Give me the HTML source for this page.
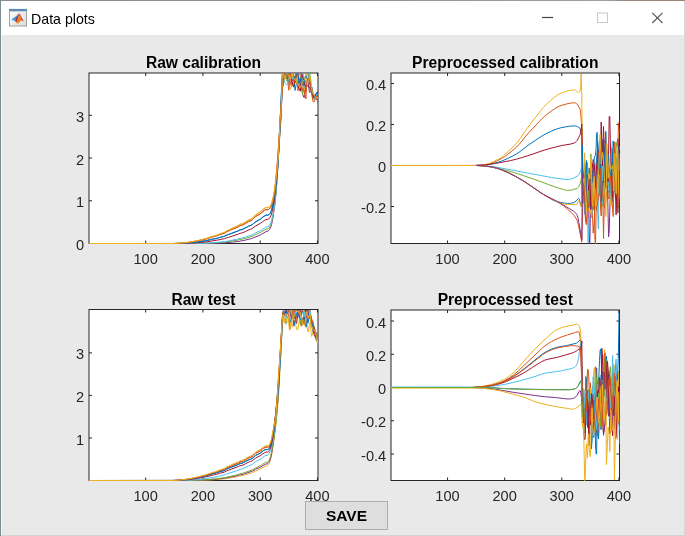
<!DOCTYPE html>
<html><head><meta charset="utf-8"><title>Data plots</title>
<style>
html,body{margin:0;padding:0;}
body{width:685px;height:536px;overflow:hidden;position:relative;background:#e9e9e9;font-family:'Liberation Sans',Arial,sans-serif;}
.tb{position:absolute;left:0;top:0;width:685px;height:35px;background:#fff;}
.bl{position:absolute;left:0;top:0;width:1px;height:536px;background:#7f8e93;}
.bl2{position:absolute;left:1px;top:35px;width:1px;height:501px;background:#f3f3f3;}
.bt{position:absolute;left:0;top:0;width:685px;height:1px;background:linear-gradient(90deg,#858d92 0,#8c9296 300px,#9aa0a4 610px,#9c8580 625px,#a07f7a 685px);}
.br{position:absolute;right:0;top:1px;width:1px;height:535px;background:#d8d6d6;}
.bb{position:absolute;left:1px;bottom:0;width:684px;height:1px;background:#d3d3d3;}
.ttl{position:absolute;left:31px;top:9.8px;font-size:14.2px;color:#000;line-height:18px;letter-spacing:0px;}
.btn{position:absolute;left:305px;top:501px;width:81px;height:27px;border:1px solid #adadad;background:#dddedd;
 font-weight:bold;font-size:15.5px;color:#000;text-align:center;line-height:27px;}
svg.main{position:absolute;left:0;top:0;}
</style></head><body>
<div class="tb"></div>

<svg width="20" height="20" viewBox="0 0 20 20" style="position:absolute;left:8px;top:8px">
<defs><linearGradient id="ib" x1="0" y1="0" x2="1" y2="1"><stop offset="0" stop-color="#ffffff"/><stop offset="1" stop-color="#dadada"/></linearGradient></defs>
<rect x="1.5" y="1.5" width="17" height="16.5" fill="url(#ib)" stroke="#a3a3a3" stroke-width="1"/>
<rect x="1" y="0.9" width="18" height="2.3" fill="#5d8bb6"/>
<rect x="2" y="3.2" width="16" height="0.8" fill="#c9ccd0"/>
<polygon points="3.4,11.4 10.4,6.6 9.2,10 7.3,13.3" fill="#3f97d6"/>
<polygon points="10.1,6.6 11.5,5 9.6,11.5 8.4,14.4 7.2,13.2" fill="#a81e22"/>
<polygon points="11.5,5 13.2,12.2 11.2,14.7 9.3,15.9 8.3,14.6 9.6,11.2" fill="#ee7d22"/>
<polygon points="11.5,5 15.8,13.6 13.2,12.2" fill="#d2452a"/>
<polygon points="8.3,14.5 11.2,14.6 9.4,16" fill="#f7b52b"/>
</svg>
<div class="ttl">Data plots</div>
<svg width="685" height="35" style="position:absolute;left:0;top:0">
<path d="M542 17.5h11" stroke="#444" stroke-width="1.2"/>
<rect x="597.5" y="13" width="10" height="9.5" fill="none" stroke="#c8c8c8" stroke-width="1"/>
<path d="M652.3 12.8L662.5 23M662.5 12.8L652.3 23" stroke="#555" stroke-width="1.1"/>
</svg>
<svg class="main" width="685" height="536" viewBox="0 0 685 536">
<rect x="89" y="73" width="229" height="170.5" fill="#fff"/>
<rect x="89" y="73" width="229" height="170.5" fill="none" stroke="#262626" stroke-width="1"/>
<path d="M145.68 243.5v-3M145.68 73v3M202.93 243.5v-3M202.93 73v3M260.18 243.5v-3M260.18 73v3M317.43 243.5v-3M317.43 73v3M89 243.50h3M318 243.50h-3M89 200.77h3M318 200.77h-3M89 158.04h3M318 158.04h-3M89 115.30h3M318 115.30h-3" stroke="#262626" stroke-width="1" fill="none"/>
<clipPath id="c0"><rect x="89" y="73.5" width="229" height="170.5"/></clipPath>
<g clip-path="url(#c0)" fill="none" stroke-width="1" stroke-linejoin="round">
<polyline stroke="#0072BD" points="89.0,243.5 176.6,243.5 186.9,243.1 192.1,242.6 200.1,241.7 205.8,240.7 210.9,239.6 212.7,239.1 214.4,238.9 217.8,238.1 219.5,237.5 224.7,236.2 226.4,235.3 238.4,230.8 240.1,229.8 241.9,229.6 245.3,228.0 248.7,226.1 250.4,225.6 252.2,224.7 255.6,221.8 260.8,218.9 262.5,217.3 264.8,215.8 265.9,215.2 267.6,215.1 268.8,214.7 269.3,214.3 269.9,213.6 270.5,212.6 271.6,209.7 272.8,205.8 274.5,197.1 275.1,193.3 275.6,187.4 277.4,167.8 278.5,151.9 282.5,72.6 283.1,73.6 284.2,73.9 286.5,74.1 287.1,75.6 287.7,78.2 288.2,80.0 289.4,82.3 289.9,83.0 292.2,80.9 293.4,76.7 295.1,90.4 296.8,80.8 297.4,80.0 298.0,81.7 298.5,82.5 300.3,77.7 301.4,81.1 302.0,82.2 303.7,78.0 304.3,77.7 304.8,78.8 305.4,77.7 307.1,70.0 309.4,80.6 310.0,82.2 311.1,88.3 312.3,93.3 312.8,96.6 313.4,97.7 315.1,97.0 315.7,97.6 317.4,100.1 318.0,98.3"/>
<polyline stroke="#D95319" points="89.0,243.5 173.2,243.5 177.7,243.3 182.9,243.0 186.9,242.6 192.1,241.9 198.9,240.6 204.1,239.3 205.8,239.0 210.9,237.5 212.7,236.8 214.4,236.5 216.1,235.9 217.8,235.5 219.5,234.7 224.7,233.1 226.4,231.9 228.1,231.2 231.6,229.5 235.0,228.2 238.4,226.7 240.1,225.5 241.9,225.3 245.3,223.5 248.7,221.3 250.4,220.8 252.2,219.8 255.6,216.5 260.8,213.5 262.5,211.8 264.8,210.1 265.9,209.6 267.0,209.7 268.2,209.6 269.3,209.0 269.9,208.4 271.1,206.3 272.2,203.1 272.8,200.8 274.5,191.5 275.6,183.3 280.8,119.9 282.5,77.2 283.1,76.9 284.2,78.8 284.8,79.4 285.4,76.6 285.9,74.8 286.5,74.2 289.4,76.4 289.9,78.9 290.5,83.5 291.1,85.5 292.8,77.7 293.4,78.0 294.0,82.0 294.5,82.2 295.1,77.2 296.2,70.0 296.8,74.0 297.4,84.1 298.0,90.7 299.7,84.6 300.3,83.9 303.1,90.9 303.7,91.1 304.8,81.4 305.4,79.7 308.3,81.9 308.8,80.5 309.4,76.9 310.0,76.6 311.1,90.5 311.7,93.3 312.3,93.7 313.4,95.4 315.7,94.7 316.3,95.7 317.4,101.5 318.0,103.6"/>
<polyline stroke="#EDB120" points="89.0,243.5 173.2,243.5 177.7,243.3 182.9,242.9 186.9,242.5 192.1,241.7 198.9,240.4 204.1,239.0 205.8,238.6 209.2,237.5 210.9,237.0 212.7,236.3 214.4,236.0 216.1,235.3 217.8,234.9 219.5,234.0 224.7,232.3 226.4,231.1 228.1,230.4 231.6,228.5 235.0,227.1 238.4,225.5 240.1,224.2 241.9,224.1 245.3,222.1 248.7,219.9 250.4,219.3 252.2,218.3 255.6,214.8 260.8,211.6 262.5,209.8 264.8,208.1 265.9,207.5 267.0,207.6 268.2,207.5 269.3,206.9 269.9,206.4 270.5,205.7 271.1,204.5 272.8,199.1 273.3,196.4 274.5,189.0 276.2,175.1 277.4,163.3 277.9,153.3 280.2,122.3 280.8,112.6 282.5,77.0 283.6,76.7 284.2,76.8 285.4,77.5 287.1,74.7 287.7,74.3 288.8,75.3 289.4,80.0 289.9,87.1 290.5,89.2 291.7,86.0 292.2,85.0 294.0,83.7 295.7,76.7 296.2,76.3 297.4,81.0 298.0,80.7 299.1,76.6 299.7,76.0 300.8,76.7 302.5,79.4 303.1,80.5 304.3,90.7 304.8,94.0 305.4,78.5 306.0,70.9 307.7,80.0 309.4,86.3 310.0,85.3 310.6,85.4 312.8,97.2 313.4,99.2 314.0,100.2 314.6,99.0 315.7,94.5 317.4,95.3 318.0,96.2"/>
<polyline stroke="#7E2F8E" points="89.0,243.5 198.9,243.5 214.4,243.3 224.7,242.8 232.7,242.1 238.4,241.4 244.1,240.4 250.4,238.9 252.2,238.3 260.2,235.0 265.9,231.7 268.2,230.9 269.3,229.8 269.9,228.9 271.1,226.2 271.6,224.4 272.2,221.9 272.8,218.5 275.1,202.2 276.2,190.3 277.4,174.3 280.8,116.5 281.9,99.4 282.5,84.9 283.6,75.1 284.2,72.7 285.4,70.3 285.9,68.3 286.5,64.6 287.1,63.3 288.8,66.5 289.4,68.2 289.9,73.1 290.5,76.7 292.2,76.9 293.4,77.3 294.0,78.1 295.1,82.4 296.8,71.2 297.4,72.3 299.1,82.6 300.8,84.5 301.4,86.9 302.5,93.6 303.7,97.2 304.3,97.5 306.0,85.7 306.5,82.3 307.1,80.1 307.7,81.1 308.3,84.1 309.4,92.2 310.0,92.7 310.6,91.5 311.1,91.3 311.7,93.0 312.8,94.2 314.0,97.2 315.7,93.8 317.4,92.0 318.0,94.3"/>
<polyline stroke="#77AC30" points="89.0,243.5 193.2,243.5 206.9,243.2 214.4,242.9 221.2,242.4 224.7,242.1 235.0,240.6 238.4,239.9 240.1,239.5 241.9,239.2 245.9,238.2 252.2,236.3 255.6,234.6 260.8,232.3 263.0,230.9 265.9,229.4 268.2,228.7 268.8,228.3 269.3,227.6 270.5,225.5 271.6,222.2 272.2,219.9 273.3,213.9 274.5,206.5 275.1,202.5 275.6,197.0 276.8,183.5 278.5,155.0 280.8,121.4 282.5,80.3 285.4,74.0 285.9,76.3 286.5,79.4 287.1,81.5 288.8,73.5 289.4,71.5 289.9,70.5 290.5,69.9 292.2,69.7 294.0,75.9 295.7,78.9 296.2,80.2 297.4,84.8 298.0,85.5 299.7,80.9 300.8,80.0 301.4,83.9 302.5,94.6 303.1,92.3 304.8,82.0 305.4,81.5 306.0,81.3 308.3,80.1 309.4,72.8 310.0,73.3 311.1,90.7 312.3,95.8 312.8,97.6 313.4,97.3 314.0,95.6 314.6,95.7 315.7,96.0 317.4,98.4 318.0,98.8"/>
<polyline stroke="#4DBEEE" points="89.0,243.5 190.9,243.4 205.8,243.1 217.8,242.3 224.7,241.6 229.8,240.7 238.4,238.9 240.1,238.4 241.9,238.2 245.3,237.1 252.2,234.8 255.6,232.9 260.8,230.5 263.0,228.9 265.3,227.6 265.9,227.3 268.2,226.7 269.3,225.7 270.5,223.6 271.6,220.1 272.2,217.7 273.9,209.4 274.5,205.4 276.2,188.6 277.4,173.6 279.1,144.9 280.2,120.4 281.9,77.6 282.5,67.2 283.1,70.0 284.8,82.7 285.4,83.9 286.5,84.5 287.7,84.1 288.2,83.6 289.4,78.0 289.9,76.5 291.7,75.5 292.2,76.8 292.8,79.3 293.4,80.6 295.1,80.6 296.8,73.8 298.0,70.7 300.3,68.5 302.0,81.2 302.5,76.3 303.1,73.6 304.8,87.1 305.4,87.6 307.1,81.0 308.8,76.6 309.4,78.5 312.8,95.6 313.4,98.0 314.0,99.4 314.6,99.2 315.1,98.8 316.9,94.7 317.4,94.2 318.0,95.0"/>
<polyline stroke="#A2142F" points="89.0,243.5 180.6,243.5 192.6,243.1 198.9,242.6 205.8,241.9 217.8,240.0 224.7,238.6 226.4,237.9 228.7,237.3 238.4,234.1 240.1,233.3 241.9,233.0 245.3,231.6 248.7,229.9 250.4,229.4 252.2,228.5 255.6,226.0 260.8,223.1 262.5,221.7 264.8,220.2 265.9,219.6 267.6,219.4 268.8,218.9 269.9,217.6 271.1,215.3 272.2,211.6 272.8,209.1 273.3,206.1 274.5,198.4 276.2,183.2 277.4,171.3 277.9,163.9 279.6,131.8 280.2,122.9 280.8,116.2 282.5,76.4 283.1,74.7 284.8,66.1 285.9,77.8 286.5,78.1 287.7,77.9 288.2,76.7 289.4,72.6 289.9,73.1 293.4,87.1 294.5,82.4 295.1,81.4 296.2,82.7 298.0,85.7 300.3,91.2 300.8,86.7 301.4,72.6 305.4,86.5 306.0,87.1 306.5,85.1 309.4,87.2 310.6,90.0 311.1,90.6 311.7,91.7 312.8,96.9 313.4,97.9 314.6,96.2 315.1,96.6 315.7,98.4 316.3,98.0 317.4,95.5 318.0,94.5"/>
<polyline stroke="#0072BD" points="89.0,243.5 176.6,243.5 186.9,243.1 192.1,242.6 200.1,241.7 205.8,240.7 210.9,239.6 212.7,239.1 214.4,238.9 217.8,238.1 219.5,237.5 224.7,236.2 226.4,235.3 238.4,230.8 240.1,229.8 241.9,229.6 245.3,228.0 248.7,226.1 250.4,225.6 252.2,224.7 255.6,221.8 260.8,218.9 262.5,217.3 264.8,215.8 265.9,215.2 267.6,215.1 268.8,214.8 269.9,213.7 271.1,211.7 271.6,210.3 272.2,208.1 274.5,195.9 275.6,187.8 276.8,177.8 277.9,164.7 279.1,147.3 280.8,105.8 282.5,75.6 283.6,79.5 284.2,79.2 285.4,76.1 287.1,74.6 288.2,73.2 288.8,72.8 290.5,72.5 292.2,75.6 292.8,76.1 293.4,75.7 294.0,76.4 295.1,79.3 297.4,71.6 298.0,72.8 299.1,83.8 299.7,83.2 300.8,78.5 301.4,77.4 302.5,84.4 303.1,85.8 304.3,80.3 304.8,78.2 305.4,76.6 306.0,76.1 307.7,79.9 309.4,82.4 310.6,86.7 311.1,87.7 311.7,86.8 312.3,88.2 313.4,95.8 314.0,97.8 314.6,97.4 317.4,91.6 318.0,91.4"/>
<polyline stroke="#D95319" points="89.0,243.5 174.9,243.5 180.6,243.2 186.9,242.6 192.1,241.9 198.9,240.6 204.1,239.3 205.8,239.0 210.9,237.5 212.7,236.8 214.4,236.5 216.1,235.9 217.8,235.5 219.5,234.7 224.7,233.1 226.4,231.9 228.1,231.2 231.6,229.5 235.0,228.2 238.4,226.7 240.1,225.5 241.9,225.3 245.3,223.5 248.7,221.3 250.4,220.8 252.2,219.8 255.6,216.5 260.8,213.5 262.5,211.8 264.8,210.1 265.9,209.6 267.6,209.7 268.8,209.3 269.3,208.9 270.5,207.7 271.1,206.9 271.6,205.6 272.2,203.7 274.5,192.9 275.1,188.1 276.8,170.9 277.9,157.2 281.9,90.6 282.5,83.7 283.1,86.6 284.2,75.9 284.8,72.6 285.4,71.6 286.5,71.4 287.1,72.8 287.7,77.8 288.2,85.2 288.8,90.3 289.9,76.2 290.5,73.3 291.7,69.7 293.4,77.7 294.0,81.6 295.1,78.9 297.4,74.4 298.5,75.7 299.1,75.4 300.3,65.1 300.8,69.7 302.0,88.8 303.7,89.9 304.3,90.6 305.4,97.9 306.0,99.0 306.5,86.8 307.1,80.9 308.8,77.9 309.4,78.2 310.0,80.8 311.7,93.8 312.8,100.8 313.4,102.0 314.0,102.0 314.6,100.8 316.3,95.8 317.4,96.9 318.0,98.6"/>
<polyline stroke="#EDB120" points="89.0,243.5 173.2,243.5 177.7,243.3 182.9,242.9 186.9,242.5 192.1,241.7 198.9,240.4 204.1,239.0 205.8,238.6 209.2,237.5 210.9,237.0 212.7,236.3 214.4,236.0 216.1,235.3 217.8,234.9 219.5,234.0 224.7,232.3 226.4,231.1 228.1,230.4 231.6,228.5 235.0,227.1 238.4,225.5 240.1,224.2 241.9,224.1 245.3,222.1 248.7,219.9 250.4,219.3 252.2,218.3 255.6,214.8 260.8,211.6 262.5,209.8 264.8,208.1 265.9,207.5 267.0,207.6 268.2,207.5 269.3,206.9 269.9,206.4 271.1,204.6 271.6,203.3 272.8,199.5 273.3,197.0 274.5,190.7 276.2,177.9 277.4,167.1 278.5,153.9 280.2,117.5 280.8,114.7 281.4,103.3 282.5,71.6 283.1,72.1 284.8,79.3 286.5,72.0 287.1,72.4 288.2,74.4 289.9,78.3 290.5,78.6 291.7,72.6 292.2,74.0 292.8,77.0 293.4,78.8 294.5,78.8 295.7,79.0 296.8,83.7 300.3,87.2 300.8,87.1 302.5,81.4 304.3,79.7 304.8,77.9 305.4,77.8 307.7,82.9 308.8,80.3 309.4,77.6 310.0,76.6 310.6,78.3 311.1,81.5 311.7,87.4 312.3,91.3 312.8,93.3 313.4,94.3 314.0,94.6 314.6,95.5 315.7,98.0 316.9,97.4 317.4,97.4 318.0,98.9"/>
</g>
<g font-family="'Liberation Sans', Arial, Helvetica, sans-serif" font-size="14.6px" fill="#262626">
<text x="145.68" y="263.8" text-anchor="middle">100</text>
<text x="202.93" y="263.8" text-anchor="middle">200</text>
<text x="260.18" y="263.8" text-anchor="middle">300</text>
<text x="317.43" y="263.8" text-anchor="middle">400</text>
<text x="84.20" y="250.10" text-anchor="end">0</text>
<text x="84.20" y="207.37" text-anchor="end">1</text>
<text x="84.20" y="164.64" text-anchor="end">2</text>
<text x="84.20" y="121.90" text-anchor="end">3</text>
</g>
<text x="203.50" y="68" text-anchor="middle" font-family="'Liberation Sans', Arial, Helvetica, sans-serif" font-weight="bold" font-size="15.6px" fill="#000">Raw calibration</text>
<rect x="391" y="73" width="228.5" height="170.5" fill="#fff"/>
<rect x="391" y="73" width="228.5" height="170.5" fill="none" stroke="#262626" stroke-width="1"/>
<path d="M447.55 243.5v-3M447.55 73v3M504.68 243.5v-3M504.68 73v3M561.80 243.5v-3M561.80 73v3M618.93 243.5v-3M618.93 73v3M391 206.50h3M619.5 206.50h-3M391 165.50h3M619.5 165.50h-3M391 124.50h3M619.5 124.50h-3M391 83.50h3M619.5 83.50h-3" stroke="#262626" stroke-width="1" fill="none"/>
<clipPath id="c1"><rect x="391" y="73.5" width="228.5" height="170.5"/></clipPath>
<g clip-path="url(#c1)" fill="none" stroke-width="1" stroke-linejoin="round">
<polyline stroke="#7E2F8E" points="582.4,180.1 582.9,174.3 583.5,172.6 584.1,174.8 585.2,186.6 585.8,190.0 586.4,192.8 586.9,188.4 587.5,192.8 588.1,199.3 588.7,209.1 589.2,235.1 589.8,245.4 590.4,213.8 590.9,199.7 591.5,192.9 593.2,164.2 594.4,178.9 594.9,182.7 595.5,181.0 596.1,176.3 596.6,169.4 597.8,148.1 598.4,179.0 598.9,180.5 599.5,179.3 600.6,161.4 601.2,161.0 601.8,168.2 602.4,166.4 602.9,155.4 604.1,140.9 605.8,142.1 606.4,159.8 607.5,188.4 608.6,236.8 609.2,231.0 610.4,189.6 610.9,173.4 611.5,165.1 613.2,182.3 613.8,178.9 614.9,161.8 615.5,156.9 616.1,160.1 616.6,164.8 617.2,159.9 617.8,138.9 618.4,152.5 618.9,184.8 619.5,202.7"/>
<polyline stroke="#0072BD" points="391.0,165.5 475.0,165.5 485.3,165.0 488.1,164.6 491.0,164.1 497.8,162.4 501.8,161.0 507.5,158.6 513.8,155.4 516.7,153.8 519.0,152.3 529.2,144.5 540.1,137.2 545.2,134.1 551.5,131.1 556.7,129.0 560.7,127.8 568.7,126.3 571.5,126.0 574.4,125.9 576.1,126.1 577.2,126.5 578.9,127.5 580.1,128.5 580.7,130.3 581.2,133.2 581.8,134.7 582.4,196.1 582.9,203.5 583.5,195.3 584.7,163.1 585.2,166.4 586.9,196.8 587.5,201.4 588.1,204.3 588.7,181.9 589.2,167.9 589.8,198.1 590.4,207.5 590.9,180.3 591.5,172.6 592.7,174.6 593.8,166.0 594.4,206.4 594.9,205.0 596.6,159.7 597.2,151.4 597.8,153.4 598.4,152.9 598.9,144.8 599.5,139.9 600.6,174.3 601.2,173.0 601.8,165.0 602.9,139.3 603.5,177.0 604.1,199.2 605.2,188.9 605.8,177.9 606.4,178.4 607.5,197.2 608.6,167.6 609.2,181.6 609.8,186.7 610.4,175.5 610.9,176.7 611.5,198.7 612.1,202.3 612.6,198.7 613.8,193.7 614.4,189.8 614.9,177.0 615.5,170.2 616.1,172.3 616.6,180.5 617.8,213.1 618.9,161.6 619.5,170.3"/>
<polyline stroke="#D95319" points="391.0,165.5 475.0,165.5 479.5,165.2 485.3,164.7 488.1,164.1 491.0,163.3 497.8,160.5 501.8,158.4 504.7,156.6 507.5,154.5 513.8,149.4 516.7,146.9 519.0,144.5 529.2,132.2 540.1,120.6 543.0,117.8 545.2,115.7 552.1,110.5 554.9,108.6 557.2,107.2 559.5,106.1 561.2,105.5 566.4,104.0 569.8,103.2 573.8,102.8 574.9,102.8 575.5,103.0 576.7,103.7 577.8,105.0 579.5,108.0 580.1,109.3 580.7,113.2 581.8,128.5 582.4,186.8 582.9,187.9 583.5,187.1 584.1,183.7 584.7,197.2 585.2,216.3 585.8,222.8 586.4,224.7 587.5,213.4 588.7,208.2 589.8,180.7 590.4,176.0 590.9,173.5 592.1,206.9 593.2,233.2 594.4,219.1 595.5,181.1 596.1,208.3 596.6,208.2 597.8,159.9 598.9,196.2 599.5,192.5 600.1,177.3 600.6,209.2 601.2,215.9 602.4,169.8 603.5,238.7 604.6,187.1 605.8,178.3 606.4,184.7 606.9,188.7 608.1,190.4 609.2,193.4 609.8,192.7 610.4,191.7 611.5,148.0 612.1,151.0 612.6,191.3 613.2,187.5 613.8,158.5 614.4,150.5 614.9,152.6 616.1,197.6 616.6,200.1 617.2,193.6 618.4,122.7 619.5,133.9"/>
<polyline stroke="#EDB120" points="391.0,165.5 475.5,165.4 481.3,165.0 486.4,164.3 489.8,163.3 493.8,161.5 499.0,158.9 501.3,157.4 503.5,155.7 508.7,151.2 515.5,144.3 517.8,141.7 520.1,138.6 529.8,124.6 540.7,110.6 543.5,107.3 545.8,104.9 550.4,100.7 553.8,97.8 557.2,95.2 558.9,94.2 560.7,93.3 565.8,91.5 569.8,90.4 572.7,89.9 574.4,89.9 574.9,90.0 575.5,90.3 577.8,92.2 578.4,92.5 578.9,92.5 579.5,91.9 580.1,90.5 580.7,86.2 581.2,73.9 581.8,95.4 582.4,160.9 582.9,179.3 583.5,191.3 584.7,152.8 585.8,210.6 586.4,206.5 586.9,191.5 587.5,190.8 588.1,194.2 589.2,211.9 589.8,213.3 590.4,210.2 591.5,216.6 592.7,186.5 593.8,200.6 594.4,198.4 594.9,177.3 596.1,175.1 596.6,176.6 597.2,181.0 597.8,187.0 598.4,195.2 599.5,179.7 600.6,159.2 601.2,153.6 602.4,170.7 602.9,182.0 604.1,180.2 604.6,175.7 605.2,145.7 605.8,134.3 606.4,164.1 606.9,180.5 607.5,177.9 608.6,155.4 610.9,206.5 612.1,193.4 614.4,173.6 614.9,173.8 615.5,176.1 616.6,190.0 617.2,188.4 617.8,172.7 618.9,153.7 619.5,169.7"/>
<polyline stroke="#77AC30" points="391.0,165.5 476.7,165.5 482.4,165.9 491.0,167.0 495.5,167.8 500.7,168.9 507.5,170.7 513.8,172.5 533.2,178.9 548.7,184.6 553.8,186.5 563.5,189.6 565.8,190.1 567.5,190.3 570.4,190.2 573.8,189.5 577.2,188.3 578.4,187.2 579.5,185.2 580.1,183.7 581.2,179.5 581.8,171.0 582.4,175.5 582.9,183.1 583.5,182.0 584.1,180.1 585.2,203.0 585.8,195.8 586.4,170.0 587.5,162.5 588.7,198.7 589.8,187.2 590.4,174.0 590.9,153.9 592.1,207.8 592.7,211.1 593.2,206.3 594.4,181.7 595.5,193.8 596.6,210.9 597.2,201.9 597.8,183.9 598.4,182.1 598.9,180.8 599.5,178.5 600.1,163.1 600.6,153.2 601.2,146.4 601.8,157.8 602.4,204.3 602.9,206.7 603.5,202.6 604.1,187.0 604.6,146.9 605.2,153.0 605.8,173.4 606.4,177.5 607.5,182.8 608.1,186.4 608.6,186.9 609.2,167.3 609.8,168.5 610.4,192.7 612.1,158.1 613.2,181.2 613.8,179.6 614.4,178.5 615.5,197.1 616.1,149.6 616.6,142.9 617.2,141.2 618.9,193.3 619.5,158.4"/>
<polyline stroke="#4DBEEE" points="391.0,165.5 476.7,165.5 481.3,165.6 486.4,166.0 492.1,166.5 496.7,167.2 551.5,177.5 562.9,179.1 568.1,179.4 569.2,179.4 570.9,179.0 573.8,178.0 577.2,176.1 578.4,175.2 578.9,174.6 580.1,172.5 581.2,169.1 581.8,160.7 582.4,177.8 582.9,182.5 583.5,188.8 584.7,206.2 585.8,185.1 586.9,189.8 588.1,242.7 589.2,218.3 589.8,218.4 590.4,218.9 590.9,218.5 591.5,217.9 592.1,210.6 592.7,198.9 593.8,168.8 594.4,175.0 594.9,174.6 596.1,162.0 596.6,171.2 597.2,188.2 597.8,217.8 598.4,228.9 599.5,152.5 600.1,155.1 600.6,156.1 601.8,141.8 602.4,178.3 602.9,203.6 604.1,186.6 605.2,163.4 606.4,166.3 607.5,172.4 608.6,177.4 609.2,195.3 609.8,199.2 610.9,172.6 611.5,155.5 612.1,144.1 612.6,140.8 613.2,146.8 614.4,168.8 614.9,175.9 615.5,177.7 616.6,170.5 617.2,174.6 617.8,170.0 618.4,156.5 618.9,146.4 619.5,149.1"/>
<polyline stroke="#A2142F" points="391.0,165.5 470.4,165.5 476.1,165.4 485.3,164.8 489.3,164.4 501.8,162.3 510.4,160.6 516.7,159.1 521.2,157.8 532.1,154.3 543.0,150.5 548.7,148.8 561.8,145.5 570.9,144.0 574.4,142.9 575.5,142.2 576.1,141.7 577.2,140.3 578.9,137.3 580.1,134.6 580.7,132.1 581.8,124.0 582.9,188.2 583.5,195.2 584.1,191.5 584.7,194.5 585.2,201.7 586.4,201.8 587.5,175.3 588.7,190.6 589.2,182.5 589.8,170.1 590.9,209.0 591.5,185.1 592.1,168.2 593.2,159.5 593.8,161.7 594.4,165.0 594.9,174.6 595.5,187.5 596.6,165.9 597.2,162.3 597.8,163.0 598.4,154.6 598.9,150.7 599.5,169.6 600.1,175.0 601.2,122.0 602.4,165.9 603.5,126.5 604.1,142.7 604.6,173.9 605.2,186.9 605.8,170.5 606.9,149.7 607.5,154.2 608.1,181.7 609.2,116.5 609.8,116.4 610.4,145.0 610.9,160.4 611.5,169.8 612.6,198.3 613.8,179.3 614.4,175.9 614.9,173.4 616.1,214.9 617.8,158.6 619.5,136.0"/>
<polyline stroke="#0072BD" points="391.0,165.5 477.3,165.5 481.8,165.8 487.5,166.3 492.7,167.2 497.3,168.3 501.8,169.9 508.7,172.9 515.0,176.1 520.7,179.3 524.7,181.7 542.4,193.8 551.0,199.0 553.2,200.2 555.5,201.2 559.5,202.2 564.1,203.1 567.5,203.4 570.4,203.3 572.1,203.0 574.4,202.4 574.9,202.1 577.8,199.0 578.4,198.5 578.9,198.3 579.5,199.6 580.7,205.4 581.2,206.4 581.8,194.8 582.4,145.6 582.9,170.1 583.5,180.6 584.1,181.7 584.7,193.2 585.2,214.3 586.4,160.6 586.9,170.2 587.5,205.1 588.1,207.1 588.7,207.4 589.2,199.0 589.8,183.3 590.9,169.7 591.5,174.3 592.1,182.7 592.7,180.6 594.4,156.5 594.9,156.5 595.5,155.1 596.1,148.7 596.6,134.1 597.2,132.3 597.8,160.1 598.4,173.3 598.9,162.0 599.5,158.1 600.1,156.0 600.6,165.2 601.2,201.7 602.4,186.8 602.9,181.2 603.5,182.8 604.1,172.9 604.6,157.0 605.8,131.4 606.9,181.0 607.5,177.3 608.1,154.8 608.6,155.7 609.2,169.3 610.4,173.7 611.5,177.4 612.1,174.4 612.6,152.1 613.8,141.3 614.9,170.4 615.5,176.5 616.6,162.9 618.4,147.5 618.9,164.0 619.5,191.9"/>
<polyline stroke="#D95319" points="391.0,165.5 478.4,165.5 484.7,166.0 491.0,166.8 497.3,168.3 501.8,169.9 509.8,173.4 514.4,175.8 519.0,178.3 525.2,182.1 539.5,191.9 543.0,194.2 546.4,196.1 553.8,199.7 557.2,201.6 560.7,203.8 564.1,206.3 570.9,212.2 572.7,213.8 574.4,215.9 576.1,218.5 577.2,220.8 578.4,225.1 581.8,242.1 582.9,202.7 583.5,172.2 585.8,221.2 586.4,222.1 587.5,205.3 588.1,203.4 589.2,206.8 590.4,168.4 590.9,162.8 591.5,181.6 592.1,195.2 592.7,204.3 593.2,209.8 593.8,185.1 594.4,202.2 594.9,239.0 595.5,245.4 596.6,180.8 597.2,206.1 598.4,197.3 598.9,194.5 599.5,192.3 600.6,168.6 601.2,171.4 602.4,193.1 603.5,202.3 604.1,205.8 605.2,208.2 605.8,202.4 606.4,194.4 606.9,192.2 607.5,196.5 608.6,198.7 609.2,193.6 610.4,175.7 610.9,182.0 612.6,209.8 613.2,216.6 613.8,191.1 614.4,151.9 614.9,142.1 616.6,195.1 617.8,148.8 618.9,210.1 619.5,215.5"/>
<polyline stroke="#EDB120" points="391.0,165.5 477.3,165.5 481.8,165.8 487.5,166.3 492.7,167.2 497.3,168.3 501.8,169.9 508.7,172.9 515.0,176.1 520.7,179.3 524.7,181.7 542.4,193.8 549.8,198.2 554.9,200.8 561.2,203.1 564.7,204.1 567.5,204.4 572.1,204.4 576.7,204.3 577.2,203.9 578.4,201.1 578.9,200.3 579.5,201.4 580.7,205.7 581.2,206.4 582.4,185.0 584.1,178.3 584.7,180.5 585.2,187.9 585.8,200.9 586.4,210.6 587.5,186.6 588.1,179.1 588.7,173.8 589.2,174.1 589.8,179.1 590.9,158.2 591.5,170.7 592.1,201.5 592.7,206.3 593.8,183.8 594.4,176.6 594.9,194.3 595.5,206.5 596.6,205.3 597.8,182.2 598.9,169.5 599.5,142.2 600.1,134.3 601.2,163.9 601.8,159.2 602.4,152.5 602.9,154.2 603.5,160.5 604.6,181.9 605.2,196.7 605.8,216.6 606.9,143.4 607.5,153.2 608.1,178.2 608.6,177.1 609.2,162.2 610.4,167.4 610.9,168.9 611.5,168.8 612.6,165.3 613.2,173.4 613.8,191.1 614.4,162.9 614.9,153.3 616.1,193.6 617.2,146.0 617.8,152.5 618.4,176.5 618.9,191.4 619.5,198.5"/>
<polyline stroke="#7E2F8E" points="476.1,165.5 480.1,165.6 485.8,166.1 489.8,166.6 493.3,167.3 496.7,168.1 499.5,169.0 503.5,170.6 508.1,172.6 515.5,176.4 523.5,181.0 532.1,186.7 540.1,192.3 543.5,194.5 547.0,196.4 555.5,200.7 562.4,204.4 573.2,210.9 574.9,212.3 576.7,214.4 577.2,215.4 577.8,217.2 578.9,222.6 581.8,239.6 582.4,180.1 582.9,174.3"/>
</g>
<g font-family="'Liberation Sans', Arial, Helvetica, sans-serif" font-size="14.6px" fill="#262626">
<text x="447.55" y="263.8" text-anchor="middle">100</text>
<text x="504.68" y="263.8" text-anchor="middle">200</text>
<text x="561.80" y="263.8" text-anchor="middle">300</text>
<text x="618.93" y="263.8" text-anchor="middle">400</text>
<text x="386.20" y="213.10" text-anchor="end">-0.2</text>
<text x="386.20" y="172.10" text-anchor="end">0</text>
<text x="386.20" y="131.10" text-anchor="end">0.2</text>
<text x="386.20" y="90.10" text-anchor="end">0.4</text>
</g>
<text x="505.25" y="68" text-anchor="middle" font-family="'Liberation Sans', Arial, Helvetica, sans-serif" font-weight="bold" font-size="15.6px" fill="#000">Preprocessed calibration</text>
<rect x="89" y="309.5" width="229" height="171.0" fill="#fff"/>
<rect x="89" y="309.5" width="229" height="171.0" fill="none" stroke="#262626" stroke-width="1"/>
<path d="M145.68 480.5v-3M145.68 309.5v3M202.93 480.5v-3M202.93 309.5v3M260.18 480.5v-3M260.18 309.5v3M317.43 480.5v-3M317.43 309.5v3M89 437.96h3M318 437.96h-3M89 395.43h3M318 395.43h-3M89 352.89h3M318 352.89h-3" stroke="#262626" stroke-width="1" fill="none"/>
<clipPath id="c2"><rect x="89" y="310.0" width="229" height="171.0"/></clipPath>
<g clip-path="url(#c2)" fill="none" stroke-width="1" stroke-linejoin="round">
<polyline stroke="#0072BD" points="89.0,480.5 173.2,480.5 177.2,480.3 182.3,479.9 186.9,479.5 192.1,478.7 198.9,477.5 204.1,476.2 205.8,475.9 209.2,474.8 210.9,474.4 212.7,473.8 214.4,473.5 216.1,472.9 217.8,472.6 219.5,471.8 224.7,470.4 226.4,469.2 228.1,468.6 231.6,467.1 238.4,464.5 240.1,463.4 241.9,463.3 245.3,461.6 248.7,459.8 250.4,459.3 252.2,458.4 255.6,455.5 260.8,452.8 262.5,451.3 263.6,450.5 265.9,449.4 267.6,449.6 268.2,449.4 268.8,448.9 269.3,448.2 269.9,447.1 271.1,444.1 271.6,441.9 272.8,436.1 273.3,432.5 274.5,424.4 275.6,415.1 276.8,402.6 278.5,381.1 280.2,365.5 282.5,319.3 283.1,314.2 283.6,314.1 284.8,310.7 285.4,311.0 286.5,315.9 287.1,316.7 288.8,316.4 289.4,316.5 290.5,322.2 291.1,321.3 291.7,310.2 292.2,309.7 293.4,315.0 294.0,316.7 295.7,315.4 296.2,315.2 297.4,317.1 298.0,317.3 299.1,316.0 300.8,315.5 301.4,314.4 302.5,310.1 303.1,311.3 304.3,323.6 304.8,321.2 305.4,312.3 306.0,309.1 307.7,323.3 308.3,322.5 308.8,316.9 309.4,314.6 311.1,321.3 311.7,323.9 312.8,330.9 313.4,332.5 314.0,332.0 314.6,331.2 315.1,331.0 316.3,333.4 317.4,337.2 318.0,338.0"/>
<polyline stroke="#D95319" points="89.0,480.5 172.6,480.5 177.2,480.3 182.3,479.8 186.9,479.3 192.1,478.4 198.9,477.0 204.1,475.6 205.8,475.3 209.2,474.1 210.9,473.7 212.7,472.9 214.4,472.7 216.1,472.0 217.8,471.6 219.5,470.8 224.7,469.2 226.4,468.0 228.1,467.4 231.6,465.7 235.0,464.4 238.4,462.9 240.1,461.8 241.9,461.7 245.3,459.9 248.7,457.9 250.4,457.4 252.2,456.5 255.6,453.4 260.8,450.6 262.5,449.0 263.6,448.2 265.9,447.0 267.6,447.2 268.2,447.0 268.8,446.6 269.3,446.0 269.9,445.1 271.1,442.0 271.6,439.7 273.3,430.5 275.1,419.7 275.6,414.3 276.8,400.9 277.9,390.7 278.5,384.1 281.4,339.5 282.5,318.7 283.1,312.7 283.6,311.6 285.4,303.9 285.9,304.8 287.1,307.8 288.8,316.8 289.9,327.8 290.5,329.1 292.2,312.6 292.8,308.4 294.0,309.3 295.7,313.0 297.4,317.7 298.0,313.4 298.5,306.7 299.1,309.4 300.3,324.0 300.8,325.1 302.0,321.6 302.5,320.3 304.3,324.6 305.4,315.5 306.0,313.9 307.1,317.8 307.7,315.8 309.4,302.5 311.1,320.0 311.7,322.5 313.4,327.0 314.0,329.0 315.1,331.0 315.7,331.5 316.3,332.1 317.4,336.0 318.0,336.2"/>
<polyline stroke="#EDB120" points="89.0,480.5 190.9,480.5 205.8,480.1 217.8,479.4 224.7,478.8 229.8,478.0 238.4,476.4 240.1,475.9 241.9,475.7 245.3,474.8 252.2,472.7 255.6,471.0 260.8,468.8 263.0,467.4 265.3,466.2 267.6,465.5 268.2,465.1 268.8,464.3 269.3,463.3 270.5,459.7 271.6,454.8 272.8,448.2 273.9,440.5 276.2,423.0 277.9,402.9 279.1,387.2 281.9,333.4 282.5,324.1 283.1,318.8 284.2,318.2 284.8,319.5 285.9,323.5 287.1,319.6 288.2,316.2 289.4,330.2 289.9,329.0 291.1,321.5 291.7,319.3 292.2,324.8 292.8,326.9 294.0,325.4 295.7,324.9 296.8,329.4 297.4,330.1 298.0,329.4 299.7,317.3 302.0,325.0 302.5,325.3 303.7,317.8 304.3,320.5 304.8,321.8 306.0,320.4 306.5,320.3 307.7,330.9 308.3,332.0 309.4,324.8 310.0,322.5 310.6,325.6 311.1,332.5 311.7,336.4 312.8,332.1 313.4,331.2 314.0,332.7 315.1,336.4 316.3,340.9 317.4,342.5 318.0,340.7"/>
<polyline stroke="#7E2F8E" points="89.0,480.5 188.0,480.4 198.9,480.2 205.8,479.9 217.8,479.0 224.7,478.2 229.8,477.2 236.7,475.8 240.1,474.8 241.9,474.6 244.7,473.7 252.2,471.2 255.6,469.3 260.8,467.0 263.0,465.5 265.3,464.3 265.9,464.1 267.6,463.7 268.2,463.3 268.8,462.6 269.3,461.6 270.5,458.5 271.1,456.3 272.2,450.1 274.5,433.8 275.1,428.9 277.9,399.7 280.2,356.3 282.5,318.2 283.1,313.2 286.5,309.4 287.7,307.8 288.2,307.9 289.4,309.1 289.9,310.3 291.1,317.7 291.7,316.5 293.4,310.7 294.0,311.0 295.1,318.8 295.7,313.4 296.2,306.1 296.8,307.8 298.5,315.5 299.1,316.1 300.3,312.1 300.8,311.7 302.0,318.4 302.5,319.2 303.7,317.6 304.3,318.3 304.8,320.8 307.1,314.1 307.7,315.7 308.3,318.5 308.8,317.3 309.4,314.9 310.0,314.4 310.6,314.8 311.7,322.4 314.0,334.5 314.6,335.9 315.1,336.6 316.3,339.3 316.9,340.3 317.4,340.4 318.0,338.6"/>
<polyline stroke="#77AC30" points="89.0,480.5 186.9,480.4 200.6,480.0 205.8,479.7 214.4,479.0 224.7,477.6 235.6,475.2 238.4,474.4 240.1,473.8 241.9,473.6 252.2,469.9 255.6,467.9 260.8,465.5 262.5,464.3 264.8,462.9 265.9,462.4 267.6,462.0 268.2,461.6 268.8,460.9 269.3,459.8 270.5,456.5 271.1,454.2 273.3,442.3 274.5,434.0 276.8,413.4 277.9,400.0 279.1,382.6 280.2,358.7 282.5,322.0 283.1,317.4 284.2,319.6 285.9,319.4 286.5,317.0 287.1,308.2 287.7,303.3 288.8,302.3 290.5,310.0 291.1,310.7 292.2,310.1 292.8,310.7 294.5,319.0 295.1,317.5 296.2,309.7 298.0,301.7 298.5,302.6 299.1,313.1 299.7,319.5 301.4,326.5 303.1,318.9 303.7,315.6 304.3,310.2 304.8,310.2 306.5,311.3 307.1,311.1 307.7,310.3 308.3,310.2 309.4,310.6 310.6,317.0 311.7,322.0 312.8,320.9 314.6,328.9 315.7,333.5 316.3,335.4 316.9,336.8 318.0,342.2"/>
<polyline stroke="#4DBEEE" points="89.0,480.5 179.5,480.4 192.1,480.0 198.9,479.4 205.8,478.6 217.8,476.5 219.5,476.0 224.7,474.8 226.4,474.1 238.4,470.2 240.1,469.3 241.9,469.0 245.3,467.5 248.7,465.8 250.4,465.2 252.2,464.4 255.6,461.7 260.8,458.9 262.5,457.5 264.8,456.0 265.9,455.4 267.6,455.2 268.2,455.0 268.8,454.4 269.3,453.4 270.5,450.5 271.1,448.5 272.8,440.7 274.5,431.5 275.1,427.7 276.2,412.6 276.8,403.3 278.5,386.0 279.6,370.1 280.8,352.3 282.5,318.0 283.1,311.1 283.6,310.0 284.2,309.8 285.4,321.9 285.9,324.3 287.1,311.0 287.7,309.4 292.2,310.4 292.8,312.8 294.0,325.4 294.5,324.0 297.4,307.9 298.0,309.9 298.5,313.2 299.1,314.1 300.8,307.6 301.4,307.0 302.5,311.2 303.7,316.3 304.3,314.8 306.0,307.3 306.5,307.2 307.7,308.7 308.3,308.2 308.8,305.8 309.4,306.2 310.6,313.1 312.3,327.6 312.8,327.9 313.4,326.9 314.0,327.5 314.6,329.4 315.7,334.9 316.3,337.0 316.9,338.5 317.4,338.3 318.0,336.5"/>
<polyline stroke="#A2142F" points="89.0,480.5 174.9,480.5 180.6,480.2 186.9,479.8 192.1,479.2 198.9,478.2 204.1,477.1 205.8,476.9 210.9,475.6 212.7,475.1 214.4,474.8 216.1,474.3 217.8,474.0 219.5,473.3 224.7,472.0 226.4,471.0 228.1,470.5 231.6,469.0 238.4,466.6 240.1,465.6 241.9,465.5 245.3,463.9 248.7,462.1 250.4,461.6 252.2,460.8 255.6,458.1 260.8,455.4 262.5,454.0 264.8,452.6 265.9,452.1 267.6,452.2 268.2,452.0 268.8,451.5 269.3,450.7 269.9,449.6 271.1,446.1 272.2,441.4 273.3,434.8 276.2,411.7 277.4,398.7 278.5,383.2 279.6,364.8 281.4,333.1 282.5,316.5 283.1,313.8 283.6,314.7 284.2,314.7 284.8,314.0 286.5,310.7 287.1,309.0 288.2,304.3 288.8,305.8 290.5,314.7 293.4,318.3 294.0,318.2 295.1,317.5 295.7,319.7 296.2,323.6 296.8,322.2 298.5,307.1 299.1,304.8 300.3,310.5 300.8,312.8 302.0,311.6 303.1,302.4 303.7,301.3 305.4,311.7 306.0,311.9 307.1,309.9 307.7,310.1 308.8,316.6 309.4,318.7 310.0,318.7 310.6,318.9 311.1,321.4 311.7,325.2 312.3,327.4 312.8,326.6 313.4,326.3 314.0,327.2 314.6,331.2 315.1,334.4 315.7,336.8 316.3,337.5 316.9,337.5 317.4,338.2 318.0,337.8"/>
<polyline stroke="#0072BD" points="89.0,480.5 173.2,480.5 177.2,480.3 182.3,479.9 186.9,479.5 192.1,478.7 198.9,477.5 204.1,476.2 205.8,475.9 209.2,474.8 210.9,474.4 212.7,473.8 214.4,473.5 216.1,472.9 217.8,472.6 219.5,471.8 224.7,470.4 226.4,469.2 228.1,468.6 231.6,467.1 238.4,464.5 240.1,463.4 241.9,463.3 245.3,461.6 248.7,459.8 250.4,459.3 252.2,458.4 255.6,455.5 260.8,452.8 262.5,451.3 263.6,450.5 265.9,449.4 267.6,449.6 268.2,449.4 268.8,449.0 269.3,448.3 269.9,447.2 271.1,443.9 273.9,430.6 274.5,426.0 277.4,397.2 278.5,388.6 279.1,380.7 280.2,356.2 282.5,315.7 283.1,312.0 283.6,313.9 284.2,313.6 285.9,311.3 287.1,313.4 288.8,310.2 291.1,314.7 291.7,313.8 292.2,313.9 294.0,325.8 296.2,315.2 297.4,313.0 298.0,313.0 299.1,316.0 300.8,319.7 303.1,320.1 303.7,318.3 304.3,316.9 306.0,327.2 306.5,326.4 307.7,313.0 308.3,314.0 309.4,319.0 310.0,317.5 310.6,316.6 311.1,316.6 312.3,324.4 312.8,327.0 313.4,328.8 314.0,328.7 314.6,329.0 315.7,333.6 316.3,335.1 316.9,335.8 317.4,337.1 318.0,337.8"/>
<polyline stroke="#D95319" points="89.0,480.5 172.6,480.5 177.2,480.3 182.3,479.8 186.9,479.3 192.1,478.4 198.9,477.0 204.1,475.6 205.8,475.3 209.2,474.1 210.9,473.7 212.7,472.9 214.4,472.7 216.1,472.0 217.8,471.6 219.5,470.8 224.7,469.2 226.4,468.0 228.1,467.4 231.6,465.7 235.0,464.4 238.4,462.9 240.1,461.8 241.9,461.7 245.3,459.9 248.7,457.9 250.4,457.4 252.2,456.5 255.6,453.4 260.8,450.6 262.5,449.0 263.6,448.2 265.9,447.0 267.6,447.2 268.2,447.0 268.8,446.6 269.3,445.9 269.9,444.9 271.1,442.0 271.6,440.0 272.8,434.0 273.9,427.1 275.6,413.7 276.8,402.8 278.5,375.6 280.2,352.4 282.5,315.1 283.1,310.9 284.8,315.2 285.4,316.0 287.1,314.2 288.2,312.0 288.8,310.7 289.9,306.1 290.5,306.7 292.2,310.3 293.4,319.3 294.0,320.7 294.5,321.5 295.1,321.6 296.8,317.0 298.5,313.8 299.1,312.2 300.3,304.1 300.8,309.5 302.0,324.2 302.5,323.6 303.7,321.0 305.4,318.7 306.0,317.5 307.1,314.3 307.7,314.5 308.3,317.5 308.8,318.5 309.4,316.7 310.0,316.3 310.6,316.6 311.1,317.2 312.8,322.5 315.1,333.3 315.7,334.7 316.9,336.1 317.4,337.5 318.0,337.4"/>
<polyline stroke="#EDB120" points="89.0,480.5 172.0,480.5 178.9,480.1 186.9,479.1 192.1,478.2 197.2,477.0 198.9,476.7 204.1,475.1 205.8,474.8 209.2,473.5 210.9,473.0 212.7,472.3 214.4,472.0 216.1,471.3 217.8,470.9 219.5,470.0 224.7,468.4 226.4,467.1 228.1,466.4 231.6,464.6 235.0,463.3 238.4,461.8 240.1,460.6 241.9,460.5 245.3,458.7 248.7,456.6 250.4,456.2 252.2,455.2 255.6,452.0 260.8,449.2 262.5,447.5 263.6,446.7 265.9,445.5 267.6,445.7 268.2,445.5 268.8,445.2 269.3,444.5 269.9,443.5 270.5,442.1 271.6,438.1 273.9,426.3 275.6,418.7 276.2,412.1 277.9,387.4 282.5,316.3 283.1,314.4 284.2,323.0 285.4,315.7 287.1,322.3 287.7,322.0 288.8,319.9 289.4,318.5 290.5,302.9 292.2,316.8 292.8,320.2 294.5,314.6 295.1,313.2 296.2,311.5 299.7,311.8 300.3,312.8 300.8,314.5 303.1,324.1 304.3,325.3 304.8,325.6 306.0,313.7 306.5,311.6 308.3,318.6 308.8,318.0 309.4,315.0 310.0,314.2 311.1,324.2 312.3,328.0 313.4,330.6 314.0,330.3 314.6,330.4 315.1,331.1 316.9,337.9 317.4,341.3 318.0,343.1"/>
</g>
<g font-family="'Liberation Sans', Arial, Helvetica, sans-serif" font-size="14.6px" fill="#262626">
<text x="145.68" y="500.9" text-anchor="middle">100</text>
<text x="202.93" y="500.9" text-anchor="middle">200</text>
<text x="260.18" y="500.9" text-anchor="middle">300</text>
<text x="317.43" y="500.9" text-anchor="middle">400</text>
<text x="84.20" y="444.56" text-anchor="end">1</text>
<text x="84.20" y="402.03" text-anchor="end">2</text>
<text x="84.20" y="359.49" text-anchor="end">3</text>
</g>
<text x="203.50" y="304.5" text-anchor="middle" font-family="'Liberation Sans', Arial, Helvetica, sans-serif" font-weight="bold" font-size="15.6px" fill="#000">Raw test</text>
<rect x="391" y="310" width="228.5" height="170.5" fill="#fff"/>
<rect x="391" y="310" width="228.5" height="170.5" fill="none" stroke="#262626" stroke-width="1"/>
<path d="M447.55 480.5v-3M447.55 310v3M504.68 480.5v-3M504.68 310v3M561.80 480.5v-3M561.80 310v3M618.93 480.5v-3M618.93 310v3M391 454.00h3M619.5 454.00h-3M391 420.75h3M619.5 420.75h-3M391 387.49h3M619.5 387.49h-3M391 354.24h3M619.5 354.24h-3M391 320.99h3M619.5 320.99h-3" stroke="#262626" stroke-width="1" fill="none"/>
<clipPath id="c3"><rect x="391" y="310.5" width="228.5" height="170.5"/></clipPath>
<g clip-path="url(#c3)" fill="none" stroke-width="1" stroke-linejoin="round">
<polyline stroke="#0072BD" points="582.4,406.1 582.9,389.0 584.1,417.7 584.7,424.8 585.2,418.6 585.8,394.0 586.4,390.6 587.5,415.1 588.1,424.6 588.7,424.7 589.2,418.2 589.8,419.9 590.4,423.7 590.9,421.3 591.5,417.7 592.1,416.9 592.7,418.7 593.2,423.8 593.8,437.4 595.5,399.9 596.1,392.3 596.6,390.4 597.2,392.7 598.4,439.0 598.9,432.5 599.5,401.5 600.1,409.0 600.6,428.4 601.2,429.7 602.4,381.6 602.9,388.5 604.1,408.8 604.6,414.0 605.2,412.4 605.8,403.3 606.4,373.5 606.9,368.7 607.5,391.4 608.1,403.4 608.6,397.9 609.2,411.5 609.8,434.0 610.4,420.5 610.9,398.5 611.5,386.8 612.1,382.3 612.6,394.5 613.2,412.0 613.8,404.7 615.5,363.8 616.1,369.8 616.6,396.3 617.2,400.1 617.8,398.6 618.9,421.0 619.5,421.2"/>
<polyline stroke="#D95319" points="582.4,421.6 583.5,401.1 585.2,433.4 586.4,390.7 586.9,393.9 587.5,400.5 588.1,410.9 588.7,434.1 589.2,445.9 589.8,409.3 590.4,382.7 590.9,412.1 591.5,427.1 592.1,427.4 592.7,426.2 593.2,422.8 593.8,425.1 594.4,430.8 594.9,429.6 595.5,406.6 596.1,415.7 596.6,433.5 597.2,436.2 597.8,430.5 598.4,420.9 599.5,384.7 600.1,391.7 600.6,390.9 601.2,384.1 601.8,385.9 602.9,421.6 603.5,433.2 604.1,431.7 605.2,418.5 605.8,416.1 606.4,405.2 606.9,374.8 607.5,376.0 608.6,398.6 609.2,371.3 609.8,377.0 610.4,400.6 610.9,416.4 612.1,414.7 613.2,376.3 614.4,417.1 615.5,436.1 616.6,407.0 617.8,398.7 618.4,386.9 618.9,385.0 619.5,387.5"/>
<polyline stroke="#EDB120" points="582.4,422.6 583.5,388.3 584.7,390.6 585.2,395.5 585.8,402.5 586.4,401.9 587.5,397.2 588.1,390.7 589.2,422.4 590.4,387.9 590.9,389.7 591.5,438.4 592.1,427.1 592.7,403.8 593.8,370.3 594.4,367.7 594.9,372.6 595.5,384.9 596.1,394.1 597.2,384.9 598.4,378.6 598.9,378.0 599.5,393.5 600.1,400.7 600.6,400.1 601.8,407.0 602.9,392.4 604.1,361.2 604.6,349.7 605.2,398.0 605.8,426.0 606.4,412.6 606.9,404.7 608.1,412.2 609.2,410.0 609.8,417.7 610.9,377.6 612.1,393.4 613.2,367.7 613.8,364.5 614.4,366.6 614.9,369.4 615.5,376.3 616.1,400.8 616.6,434.8 617.2,439.3 618.4,371.3 618.9,405.7 619.5,430.0"/>
<polyline stroke="#7E2F8E" points="582.4,413.0 582.9,417.9 583.5,427.8 584.1,419.4 585.2,395.5 585.8,391.4 586.4,389.5 587.5,391.1 588.7,415.8 589.2,410.2 589.8,407.6 590.9,411.9 591.5,424.7 592.1,427.6 592.7,428.4 593.2,427.0 593.8,422.2 594.4,422.5 594.9,428.0 595.5,425.3 596.6,367.8 597.8,404.9 598.4,409.7 598.9,405.5 599.5,397.8 600.1,396.2 600.6,396.8 601.2,399.2 602.4,409.2 602.9,426.6 603.5,435.3 604.6,425.9 605.2,424.0 605.8,405.6 606.4,364.4 606.9,360.8 607.5,394.3 608.1,413.6 608.6,416.2 609.8,386.3 610.4,381.0 610.9,387.7 611.5,400.7 612.1,430.8 612.6,433.7 613.2,409.0 613.8,395.9 614.9,417.5 616.1,376.2 617.2,374.5 618.4,400.2 618.9,423.3 619.5,415.4"/>
<polyline stroke="#0072BD" points="582.4,402.5 583.5,407.9 584.7,421.4 585.2,422.1 585.8,376.5 586.4,378.2 587.5,427.5 588.1,419.4 588.7,413.9 590.4,402.0 590.9,403.6 591.5,448.8 592.7,430.3 593.2,416.6 593.8,394.3 594.9,404.9 595.5,445.0 596.1,454.0 596.6,454.0 597.2,414.8 597.8,398.2 598.9,375.5 599.5,360.7 600.1,350.6 600.6,349.1 601.2,357.2 601.8,377.1 602.4,380.4 602.9,371.5 603.5,377.8 604.1,396.8 605.2,366.4 605.8,357.0 606.4,356.2 607.5,388.6 608.1,396.6 608.6,372.8 609.2,373.7 610.4,389.7 610.9,388.7 612.1,383.2 612.6,384.5 613.2,386.4 614.4,382.8 614.9,383.5 615.5,384.6 616.1,389.1 616.6,403.0 617.2,407.1 617.8,391.5 618.4,391.9 619.5,415.5"/>
<polyline stroke="#77AC30" points="582.4,416.8 582.9,424.7 583.5,430.5 584.1,432.7 585.2,396.6 586.4,401.9 587.5,409.0 588.7,389.7 589.2,389.9 589.8,408.3 590.4,412.7 590.9,415.2 591.5,410.1 592.1,388.2 592.7,386.6 593.2,395.6 593.8,399.6 594.4,395.9 595.5,366.5 596.1,375.7 596.6,382.4 597.8,404.1 598.4,396.7 598.9,379.8 599.5,386.3 600.6,427.4 601.2,421.6 601.8,411.8 602.4,393.8 602.9,394.6 603.5,404.8 604.6,359.4 605.2,369.2 605.8,383.5 606.4,375.2 606.9,360.7 608.1,371.2 608.6,374.4 609.2,373.2 609.8,371.3 610.4,366.7 610.9,374.6 611.5,394.6 612.1,383.9 612.6,366.1 613.8,377.8 614.4,387.7 614.9,413.4 616.1,385.3 616.6,382.1 617.2,401.8 617.8,416.3 618.4,414.8 619.5,427.0"/>
<polyline stroke="#4DBEEE" points="582.4,400.4 582.9,404.1 584.1,408.7 584.7,395.5 585.2,390.3 586.4,425.1 586.9,411.8 587.5,402.3 588.7,391.6 589.8,404.5 590.4,396.6 590.9,394.8 591.5,399.7 592.1,401.3 593.2,376.7 593.8,384.7 594.9,396.1 596.6,429.6 597.2,402.7 597.8,383.8 598.4,391.2 598.9,391.8 600.1,375.1 600.6,383.0 601.2,402.8 601.8,410.1 602.4,413.5 602.9,407.1 603.5,394.1 604.1,374.5 604.6,372.7 605.2,379.2 606.4,396.1 606.9,401.7 608.1,398.1 608.6,386.9 609.2,385.6 610.4,407.5 610.9,408.3 611.5,398.9 612.6,355.3 613.8,396.6 614.4,380.4 614.9,371.0 616.1,359.1 616.6,368.9 617.2,390.0 617.8,396.3 618.4,397.0 619.5,444.0"/>
<polyline stroke="#A2142F" points="582.4,403.4 583.5,429.7 584.1,436.6 584.7,439.7 585.2,437.9 586.4,393.9 587.5,402.1 588.7,434.1 589.2,404.6 589.8,401.5 590.4,425.0 590.9,417.8 591.5,393.6 592.1,395.2 592.7,404.6 593.8,419.1 594.4,421.6 595.5,422.5 596.1,416.0 596.6,406.0 597.8,390.7 598.4,392.8 598.9,387.5 599.5,377.7 600.1,380.2 600.6,403.4 601.2,386.7 601.8,348.3 602.4,353.7 602.9,375.7 603.5,386.7 604.1,372.2 604.6,373.3 605.2,389.4 605.8,398.0 606.4,373.3 606.9,361.9 607.5,361.7 608.1,370.0 608.6,396.7 609.2,410.3 609.8,416.7 610.4,415.6 610.9,413.0 611.5,411.0 612.1,427.2 612.6,435.8 613.8,396.9 614.4,396.1 614.9,410.5 615.5,438.7 616.1,436.4 617.2,409.6 618.4,386.8 618.9,413.3 619.5,426.3"/>
<polyline stroke="#D95319" points="582.4,388.0 583.5,402.2 584.1,417.6 584.7,426.4 585.2,415.0 585.8,410.3 586.4,410.2 587.5,369.5 588.1,369.4 588.7,376.1 590.4,420.1 590.9,414.9 591.5,404.2 593.8,412.3 594.4,419.7 594.9,421.3 596.1,401.4 596.6,410.2 597.2,412.2 598.4,399.2 599.5,421.7 600.1,414.1 600.6,401.2 601.8,388.2 602.9,426.4 604.1,356.0 605.2,352.8 605.8,400.4 606.4,414.8 608.1,386.0 608.6,380.2 609.2,378.0 609.8,376.5 610.4,381.7 610.9,389.6 612.1,410.4 613.2,409.0 614.4,373.5 614.9,385.3 615.5,391.4 616.1,391.6 616.6,395.4 617.8,421.7 618.4,399.9 618.9,393.1 619.5,406.9"/>
<polyline stroke="#EDB120" points="582.4,425.3 582.9,427.0 583.5,423.3 584.7,480.6 585.2,478.2 585.8,456.1 586.4,443.7 586.9,452.6 587.5,458.2 588.1,434.1 588.7,433.9 589.2,448.9 589.8,454.3 590.4,456.8 591.5,415.4 592.1,407.8 592.7,426.6 593.2,436.0 594.9,425.7 596.1,410.6 596.6,401.0 597.2,397.0 598.4,419.1 598.9,423.0 600.1,409.9 600.6,389.2 601.2,386.8 601.8,385.3 602.4,384.6 602.9,400.8 603.5,411.7 604.1,419.0 604.6,416.0 605.2,389.5 605.8,403.1 606.4,464.6 606.9,455.6 608.1,427.0 608.6,429.9 609.2,436.2 609.8,451.5 610.9,410.0 611.5,417.7 612.1,429.8 612.6,430.7 613.8,415.8 614.4,479.7 616.1,401.3 616.6,386.3 617.2,380.7 617.8,405.6 618.4,422.1 618.9,392.0 619.5,391.4"/>
<polyline stroke="#0072BD" points="391.0,387.5 472.1,387.5 479.0,387.0 483.5,386.5 489.8,385.5 494.4,384.5 500.1,382.9 504.1,381.4 508.7,379.1 514.4,375.8 518.4,373.1 525.2,367.9 541.8,354.5 544.1,352.9 546.4,351.5 551.0,349.4 555.5,347.7 558.9,346.9 566.4,345.6 576.1,343.3 576.7,343.1 577.2,342.7 578.9,340.9 580.1,340.0 580.7,341.7 581.2,353.2 581.8,370.9 582.4,406.1"/>
<polyline stroke="#D95319" points="391.0,387.5 472.1,387.5 479.5,386.9 484.1,386.4 491.0,385.1 496.7,383.7 501.3,382.2 504.7,380.6 509.2,378.0 513.8,374.8 518.4,370.8 542.4,348.0 545.2,345.6 548.7,343.3 551.5,341.6 554.9,339.8 561.2,337.1 567.5,334.9 575.5,332.4 577.8,331.9 578.9,331.8 579.5,333.5 580.1,337.6 580.7,347.1 581.8,387.5 582.4,421.6"/>
<polyline stroke="#EDB120" points="391.0,387.5 472.1,387.5 479.5,386.8 484.1,386.1 490.4,384.7 495.5,383.2 500.7,381.2 504.7,379.2 508.7,376.6 513.2,373.0 516.1,370.1 523.0,362.1 531.0,353.2 535.0,348.9 543.0,341.2 551.0,333.9 553.8,331.6 555.5,330.4 557.8,329.3 560.7,328.1 562.9,327.3 566.9,326.2 573.2,325.1 575.5,324.4 576.7,324.1 577.2,324.3 578.4,325.0 578.9,325.6 579.5,326.8 580.1,329.1 580.7,332.6 581.2,344.3 581.8,366.3 582.4,422.6"/>
<polyline stroke="#7E2F8E" points="391.0,387.5 471.0,387.5 486.4,388.2 491.0,388.6 494.4,389.0 513.2,392.3 535.5,395.6 544.7,396.7 556.7,397.7 564.7,398.7 568.1,399.0 570.4,398.9 572.7,398.5 573.8,398.1 574.9,397.5 576.7,396.1 577.2,395.4 578.9,391.7 579.5,390.8 580.1,390.5 580.7,392.0 581.2,396.0 581.8,401.3 582.4,413.0"/>
<polyline stroke="#0072BD" points="391.0,387.5 484.7,387.6 491.5,387.7 505.8,388.6 521.8,389.1 545.2,389.5 569.2,389.7 570.9,389.5 573.2,389.2 574.4,389.0 575.5,388.5 576.7,387.6 577.8,386.5 578.4,385.6 580.1,382.1 580.7,381.7 581.2,382.9 581.8,385.8 582.4,402.5"/>
<polyline stroke="#4DBEEE" points="391.0,387.0 470.4,387.0 477.8,387.2 481.3,387.2 491.0,386.4 497.8,385.5 504.7,384.4 513.8,382.3 520.7,380.6 527.0,378.9 535.0,376.5 541.8,374.1 544.7,373.3 548.1,372.7 556.1,371.7 562.4,370.6 570.9,368.7 572.7,368.1 574.4,367.3 575.5,366.4 576.7,365.0 577.2,363.7 577.8,361.6 578.9,355.9 580.1,345.4 580.7,342.6 581.2,348.1 581.8,362.0 582.4,400.4"/>
<polyline stroke="#A2142F" points="391.0,387.5 472.1,387.5 480.1,387.0 485.3,386.5 491.5,385.6 497.3,384.4 501.8,383.1 505.2,381.9 513.8,378.0 519.0,375.5 525.2,372.1 532.7,367.2 540.7,362.2 543.0,361.0 544.7,360.2 548.1,359.2 554.9,357.8 558.4,357.0 570.9,353.4 573.2,352.6 575.5,351.5 576.7,350.9 578.9,349.1 579.5,348.9 580.7,350.9 581.8,340.9 582.4,403.4"/>
<polyline stroke="#D95319" points="391.0,387.5 471.5,387.5 476.1,387.2 483.5,386.6 489.3,385.8 493.3,385.0 498.4,383.6 503.5,381.8 508.1,379.7 513.8,376.5 517.8,373.9 524.7,368.9 542.4,354.9 545.2,353.0 548.7,351.2 551.5,349.9 553.8,349.0 556.1,348.3 558.9,347.6 565.2,346.4 570.4,345.8 573.2,345.6 574.9,345.7 577.2,346.1 579.5,347.1 580.1,347.6 580.7,352.4 581.2,363.8 581.8,379.2 582.4,388.0"/>
<polyline stroke="#EDB120" points="391.0,388.1 479.0,388.0 481.8,388.1 493.3,389.6 502.4,391.4 523.0,396.9 525.8,397.9 533.8,401.3 541.2,403.5 547.0,404.8 552.7,406.0 558.4,407.0 568.7,408.6 571.5,409.2 573.2,409.2 574.4,408.9 575.5,408.4 577.2,407.4 580.7,404.4 581.2,404.1 581.8,412.9 582.4,425.3"/>
<polyline stroke="#77AC30" points="391.0,387.5 476.7,387.5 491.0,387.9 505.8,388.7 521.8,389.3 545.8,389.7 569.8,389.8 573.8,389.3 574.9,388.9 575.5,388.6 576.7,387.5 577.8,386.2 578.4,385.2 580.1,381.3 580.7,380.8 581.2,382.2 581.8,385.6 582.4,416.8"/>
<polyline stroke="#0072BD" points="617.5,379.2 618.4,354.2 619.1,309.4 619.5,309.4"/>
</g>
<g font-family="'Liberation Sans', Arial, Helvetica, sans-serif" font-size="14.6px" fill="#262626">
<text x="447.55" y="500.9" text-anchor="middle">100</text>
<text x="504.68" y="500.9" text-anchor="middle">200</text>
<text x="561.80" y="500.9" text-anchor="middle">300</text>
<text x="618.93" y="500.9" text-anchor="middle">400</text>
<text x="386.20" y="460.60" text-anchor="end">-0.4</text>
<text x="386.20" y="427.35" text-anchor="end">-0.2</text>
<text x="386.20" y="394.09" text-anchor="end">0</text>
<text x="386.20" y="360.84" text-anchor="end">0.2</text>
<text x="386.20" y="327.59" text-anchor="end">0.4</text>
</g>
<text x="505.25" y="305" text-anchor="middle" font-family="'Liberation Sans', Arial, Helvetica, sans-serif" font-weight="bold" font-size="15.6px" fill="#000">Preprocessed test</text>
</svg>
<div class="btn">SAVE</div>
<div class="bt"></div><div class="bl"></div><div class="bl2"></div><div class="br"></div><div class="bb"></div>
</body></html>
